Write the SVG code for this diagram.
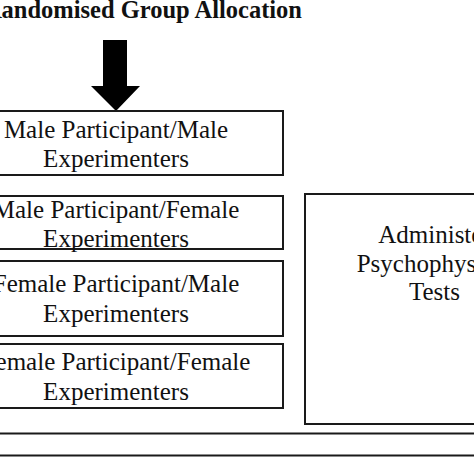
<svg xmlns="http://www.w3.org/2000/svg" width="474" height="474" viewBox="0 0 474 474">
<style>
.box{fill:#fff;stroke:#1a1a1a;stroke-width:2}
.t{font-family:'Liberation Serif',serif;font-size:25px;fill:#111;text-anchor:middle}
.title{font-family:'Liberation Serif',serif;font-size:24.5px;font-weight:bold;fill:#111;text-anchor:end}
.ln{stroke:#1a1a1a;stroke-width:2;fill:none}
</style>
<rect width="474" height="474" fill="#fff"/>
<g id="title"><text class="title" x="302" y="18" font-family="Liberation Serif">Randomised Group Allocation</text></g>
<g id="connectors">
<polygon points="103,40 127,40 127,86 140,86 116,111 91,86 103,86" fill="#000"/>
</g>
<g id="node1"><rect class="box" x="-60" y="111" width="343" height="64"/>
<text class="t" x="116" y="138" font-family="Liberation Serif">Male Participant/Male</text><text class="t" x="116" y="167" font-family="Liberation Serif">Experimenters</text></g>
<g id="node2"><rect class="box" x="-60" y="196" width="343" height="53"/>
<text class="t" x="116" y="218" font-family="Liberation Serif">Male Participant/Female</text><text class="t" x="116" y="246.5" font-family="Liberation Serif">Experimenters</text></g>
<g id="node3"><rect class="box" x="-60" y="261" width="343" height="75"/>
<text class="t" x="116" y="292" font-family="Liberation Serif">Female Participant/Male</text><text class="t" x="116" y="321.5" font-family="Liberation Serif">Experimenters</text></g>
<g id="node4"><rect class="box" x="-60" y="344" width="343" height="64"/>
<text class="t" x="116" y="370" font-family="Liberation Serif">Female Participant/Female</text><text class="t" x="116" y="400" font-family="Liberation Serif">Experimenters</text></g>
<g id="node5"><rect class="box" x="305" y="194" width="260" height="230"/>
<text class="t" x="434.5" y="243" font-family="Liberation Serif">Administer</text><text class="t" x="434.5" y="272" font-family="Liberation Serif">Psychophysical</text><text class="t" x="434.5" y="300" font-family="Liberation Serif">Tests</text></g>
<g id="bottom"><line class="ln" x1="-10" y1="433.5" x2="484" y2="433.5"/><line class="ln" x1="-10" y1="455.5" x2="484" y2="455.5"/></g>
</svg>
